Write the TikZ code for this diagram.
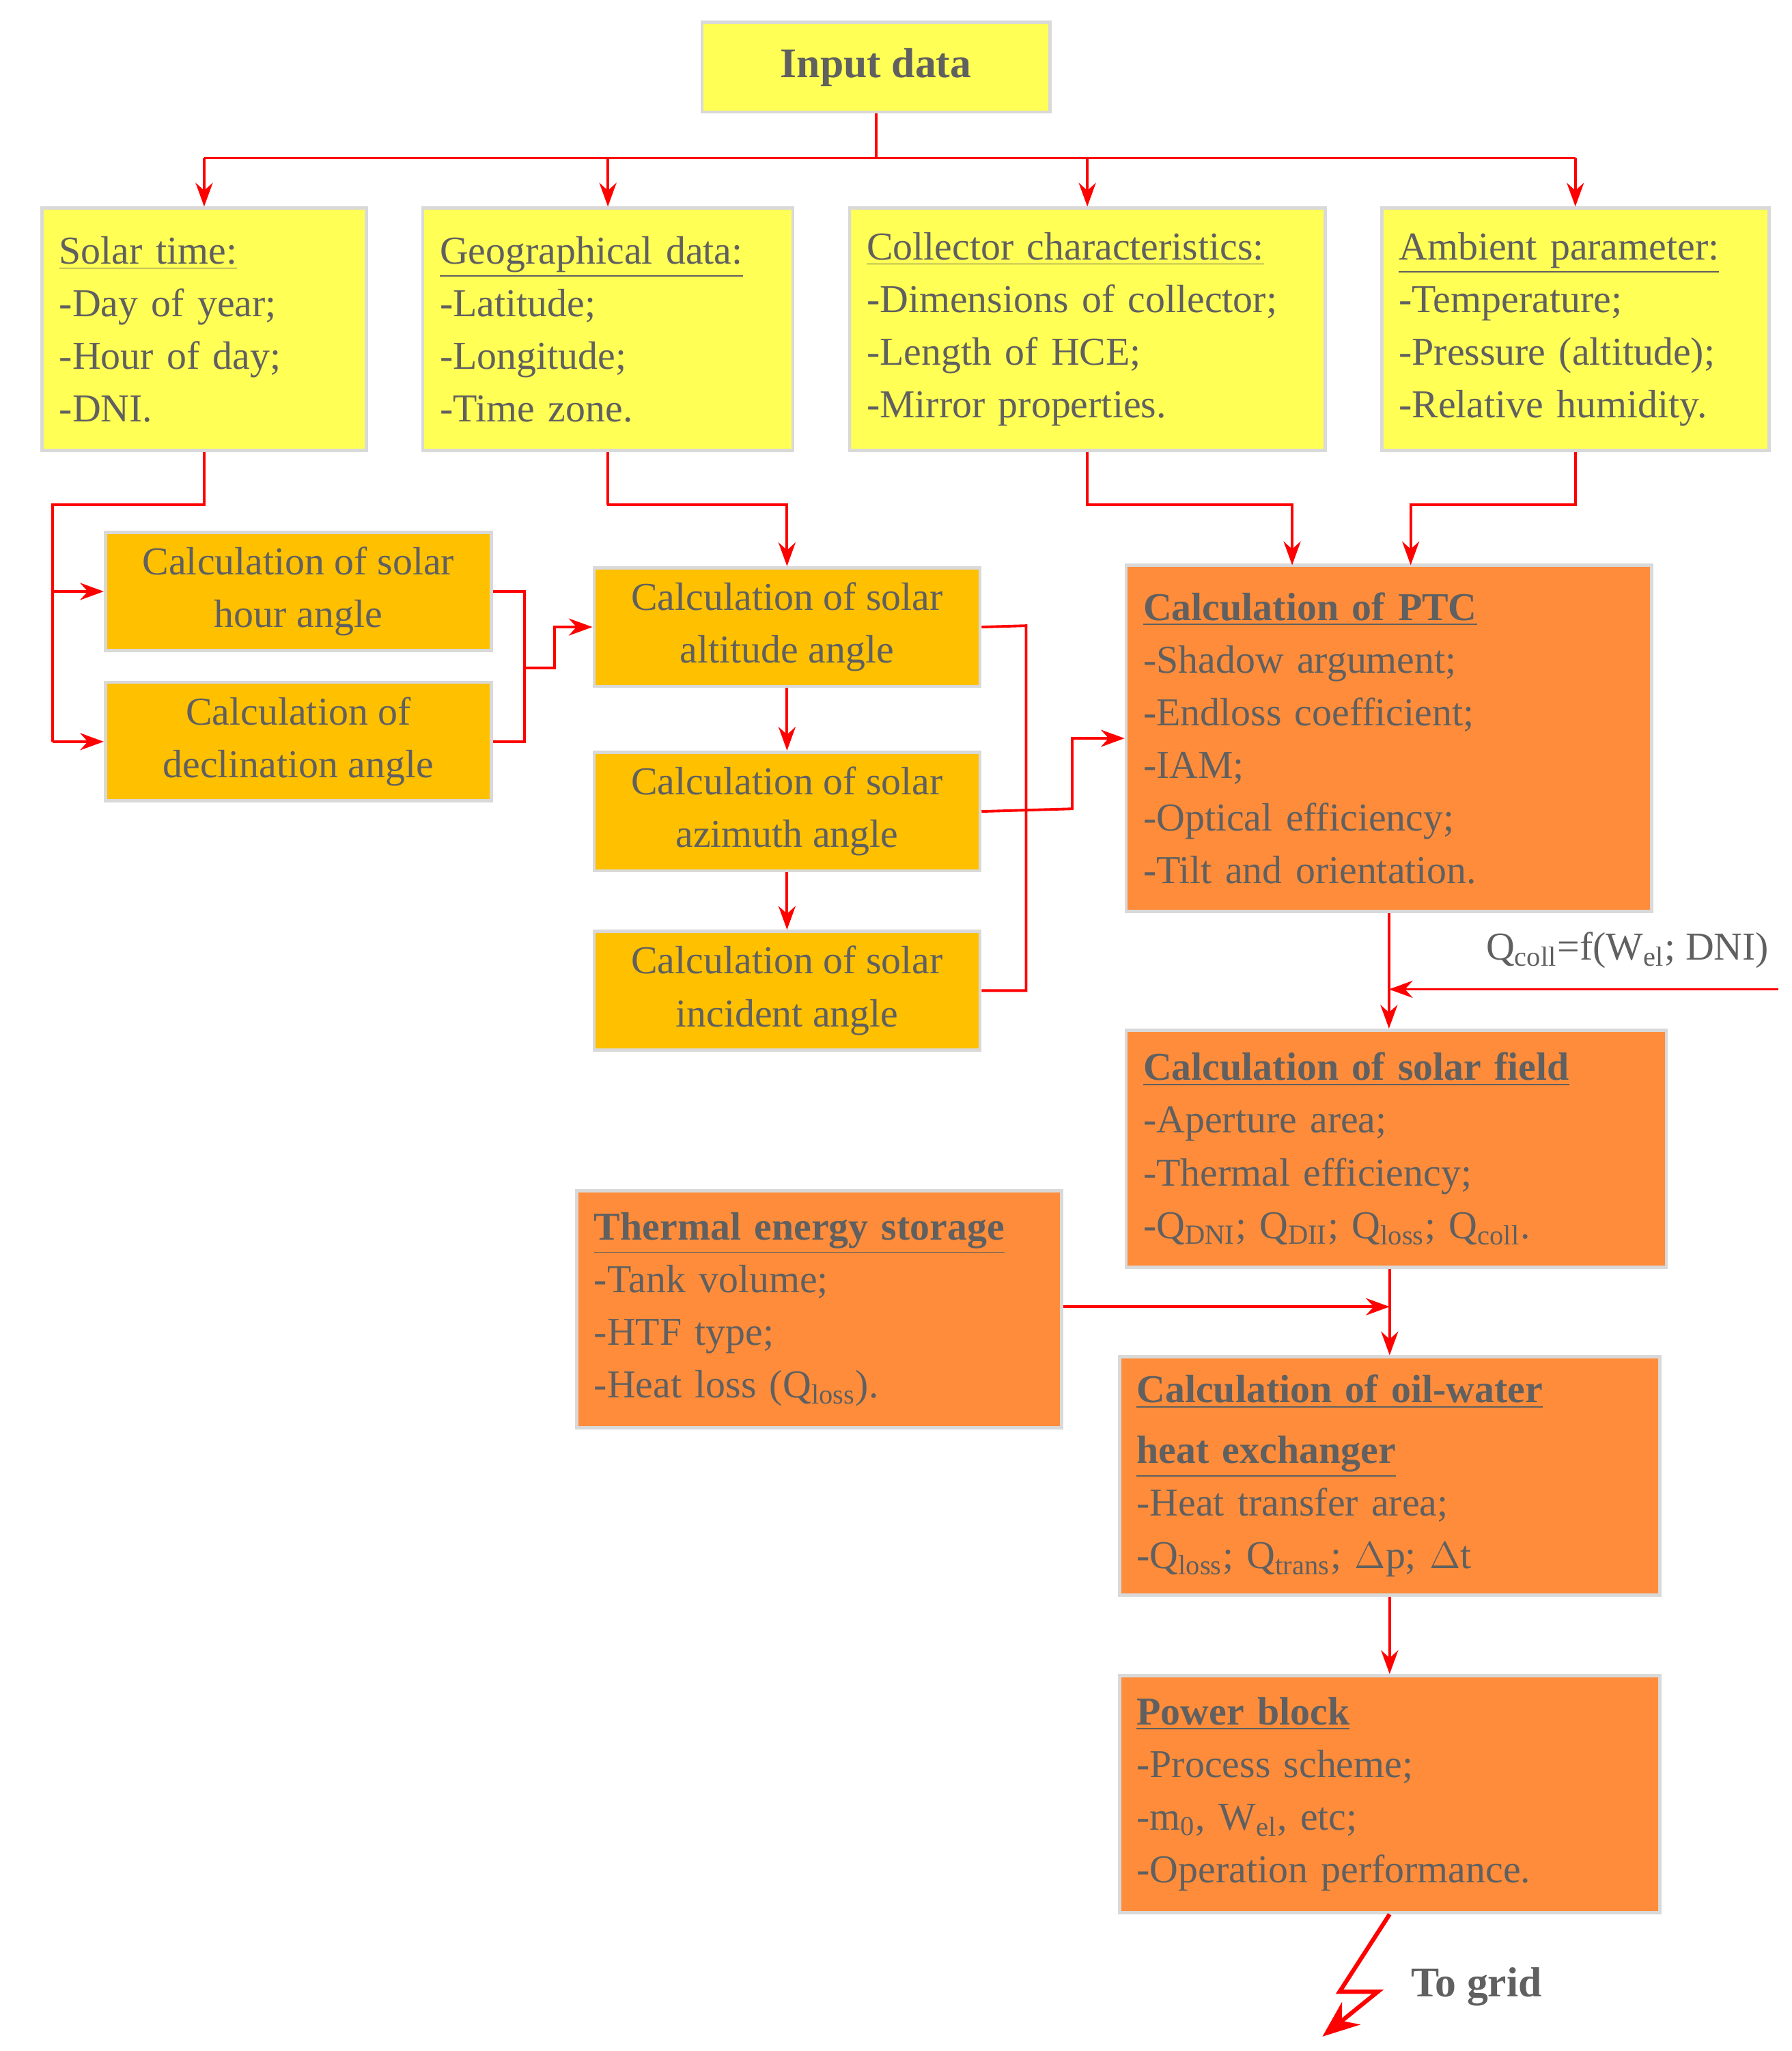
\documentclass[tikz,border=0pt]{standalone}
\usepackage{fontspec}
\setmainfont{Liberation Serif}
\usetikzlibrary{arrows.meta}
\definecolor{tx}{HTML}{606060}
\definecolor{bd}{HTML}{D9D9D9}
\definecolor{yl}{HTML}{FFFF55}
\definecolor{am}{HTML}{FFC000}
\definecolor{og}{HTML}{FF8C3A}
\begin{document}
\begin{tikzpicture}[x=0.5pt,y=-0.5pt,
  box/.style={draw=bd,line width=1.2pt,inner sep=0pt,text=tx,font=\fontsize{15}{20}\selectfont},
  ybox/.style={box,fill=yl,align=left},
  abox/.style={box,fill=am,align=center},
  obox/.style={box,fill=og,align=left},
  arr/.style={red,line width=1pt,-{Stealth[length=9pt,width=6.5pt]}},
  ln/.style={red,line width=1pt}]
\useasboundingbox (0,0) rectangle (1360,1557);
% top
\node[box,fill=yl,minimum width=132pt,minimum height=34pt,font=\fontsize{16}{20}\selectfont\bfseries] (in) at (665,51) {Input data};
\node[ybox,minimum width=123pt,minimum height=92pt,text width=110pt] (st) at (155,250) {\underline{Solar time:}\\-Day of year;\\-Hour of day;\\-DNI.};
\node[ybox,minimum width=140.5pt,minimum height=92pt,text width=127.5pt] (ge) at (461.5,250) {\underline{Geographical data:}\\-Latitude;\\-Longitude;\\-Time zone.};
\node[ybox,minimum width=180.5pt,minimum height=92pt,text width=167.5pt] (co) at (825.5,250) {\underline{Collector characteristics:}\\-Dimensions of collector;\\-Length of HCE;\\-Mirror properties.};
\node[ybox,minimum width=147pt,minimum height=92pt,text width=134pt] (am) at (1196,250) {\underline{Ambient parameter:}\\-Temperature;\\-Pressure (altitude);\\-Relative humidity.};
% angles
\node[abox,minimum width=146.5pt,minimum height=45pt] (ha) at (226.5,449) {Calculation of solar\\hour angle};
\node[abox,minimum width=146.5pt,minimum height=45pt] (de) at (226.5,563) {Calculation of\\declination angle};
\node[abox,minimum width=146.5pt,minimum height=45pt] (al) at (597.5,476) {Calculation of solar\\altitude angle};
\node[abox,minimum width=146.5pt,minimum height=45pt] (az) at (597.5,616) {Calculation of solar\\azimuth angle};
\node[abox,minimum width=146.5pt,minimum height=45pt] (ic) at (597.5,752) {Calculation of solar\\incident angle};
% orange
\node[obox,minimum width=199.5pt,minimum height=131.5pt,text width=186.5pt] (ptc) at (1054.5,560.5) {\textbf{\underline{Calculation of PTC}}\\-Shadow argument;\\-Endloss coefficient;\\-IAM;\\-Optical efficiency;\\-Tilt and orientation.};
\node[obox,minimum width=205pt,minimum height=90pt,text width=192pt] (sf) at (1060,872) {\textbf{\underline{Calculation of solar field}}\\-Aperture area;\\-Thermal efficiency;\\-Q\textsubscript{DNI}; Q\textsubscript{DII}; Q\textsubscript{loss}; Q\textsubscript{coll}.};
\node[obox,minimum width=184pt,minimum height=90pt,text width=171pt] (tes) at (622,994) {\textbf{\underline{Thermal energy storage}}\\-Tank volume;\\-HTF type;\\-Heat loss (Q\textsubscript{loss}).};
\node[obox,minimum width=205pt,minimum height=90.5pt,text width=192pt] (hx) at (1055,1120.5) {\textbf{\underline{Calculation of oil-water}}\\[3pt]\textbf{\underline{heat exchanger}}\\-Heat transfer area;\\-Q\textsubscript{loss}; Q\textsubscript{trans}; $\Delta$p; $\Delta$t};
\node[obox,minimum width=205pt,minimum height=90pt,text width=192pt] (pb) at (1055,1362) {\textbf{\underline{Power block}}\\-Process scheme;\\-m\textsubscript{0}, W\textsubscript{el}, etc;\\-Operation performance.};
% input bus
\coordinate (bus) at (665,120);
\draw[ln] (in.south) -- (bus);
\draw[ln] (st.north |- bus) -- (am.north |- bus);
\foreach \n in {st,ge,co,am} \draw[arr] (\n.north |- bus) -- (\n.north);
% solar time to hour/decl
\coordinate (s1) at (155,383);
\coordinate (s2) at (40,383);
\draw[ln] (st.south) -- (s1) -- (s2) -- (s2 |- de.west);
\draw[arr] (s2 |- ha.west) -- (ha.west);
\draw[arr] (s2 |- de.west) -- (de.west);
% hour/decl to altitude
\coordinate (m1) at (398,507);
\coordinate (m2) at (421,507);
\draw[ln] (ha.east) -| (m1);
\draw[ln] (de.east) -| (m1);
\draw[arr] (m1) -- (m2) |- (al.west);
% geo to altitude
\draw[arr] (ge.south) |- (461,383) -| (al.north);
\draw[arr] (al.south) -- (az.north);
\draw[arr] (az.south) -- (ic.north);
% altitude/incident loop
\coordinate (r1) at (779,475);
\draw[ln] (al.east) -- (r1) |- (ic.east);
% azimuth to PTC
\coordinate (r2) at (814,614);
\draw[arr] (az.east) -- (r2) |- (ptc.west);
% collector/ambient to PTC
\draw[arr] (co.south) |- (981,383) -- (981,429);
\draw[arr] (am.south) |- (1071,383) -- (1071,429);
% vertical chain
\draw[arr] (ptc.south) -- (sf.north -| ptc.south);
\coordinate (qs) at (1350,751);
\draw[arr] (qs) -- (qs -| ptc.south);
\node[text=tx,font=\fontsize{15}{20}\selectfont,anchor=south east] (ql) at (1350,742) {Q\textsubscript{coll}=f(W\textsubscript{el}; DNI)};
\draw[arr] (sf.south -| hx.north) -- (hx.north);
\draw[arr] (tes.east |- 0,992) -- (hx.north |- 0,992);
\draw[arr] (hx.south) -- (pb.north);
% lightning
\coordinate (z1) at (1017,1512);
\coordinate (z2) at (1046,1512);
\coordinate (z3) at (1004,1546);
\draw[red,line width=1.6pt,-{Stealth[length=14pt,width=11pt]}] (pb.south) -- (z1) -- (z2) -- (z3);
\node[text=tx,font=\fontsize{16}{20}\selectfont\bfseries] (tg) at (1121,1508) {To grid};
\end{tikzpicture}
\end{document}
